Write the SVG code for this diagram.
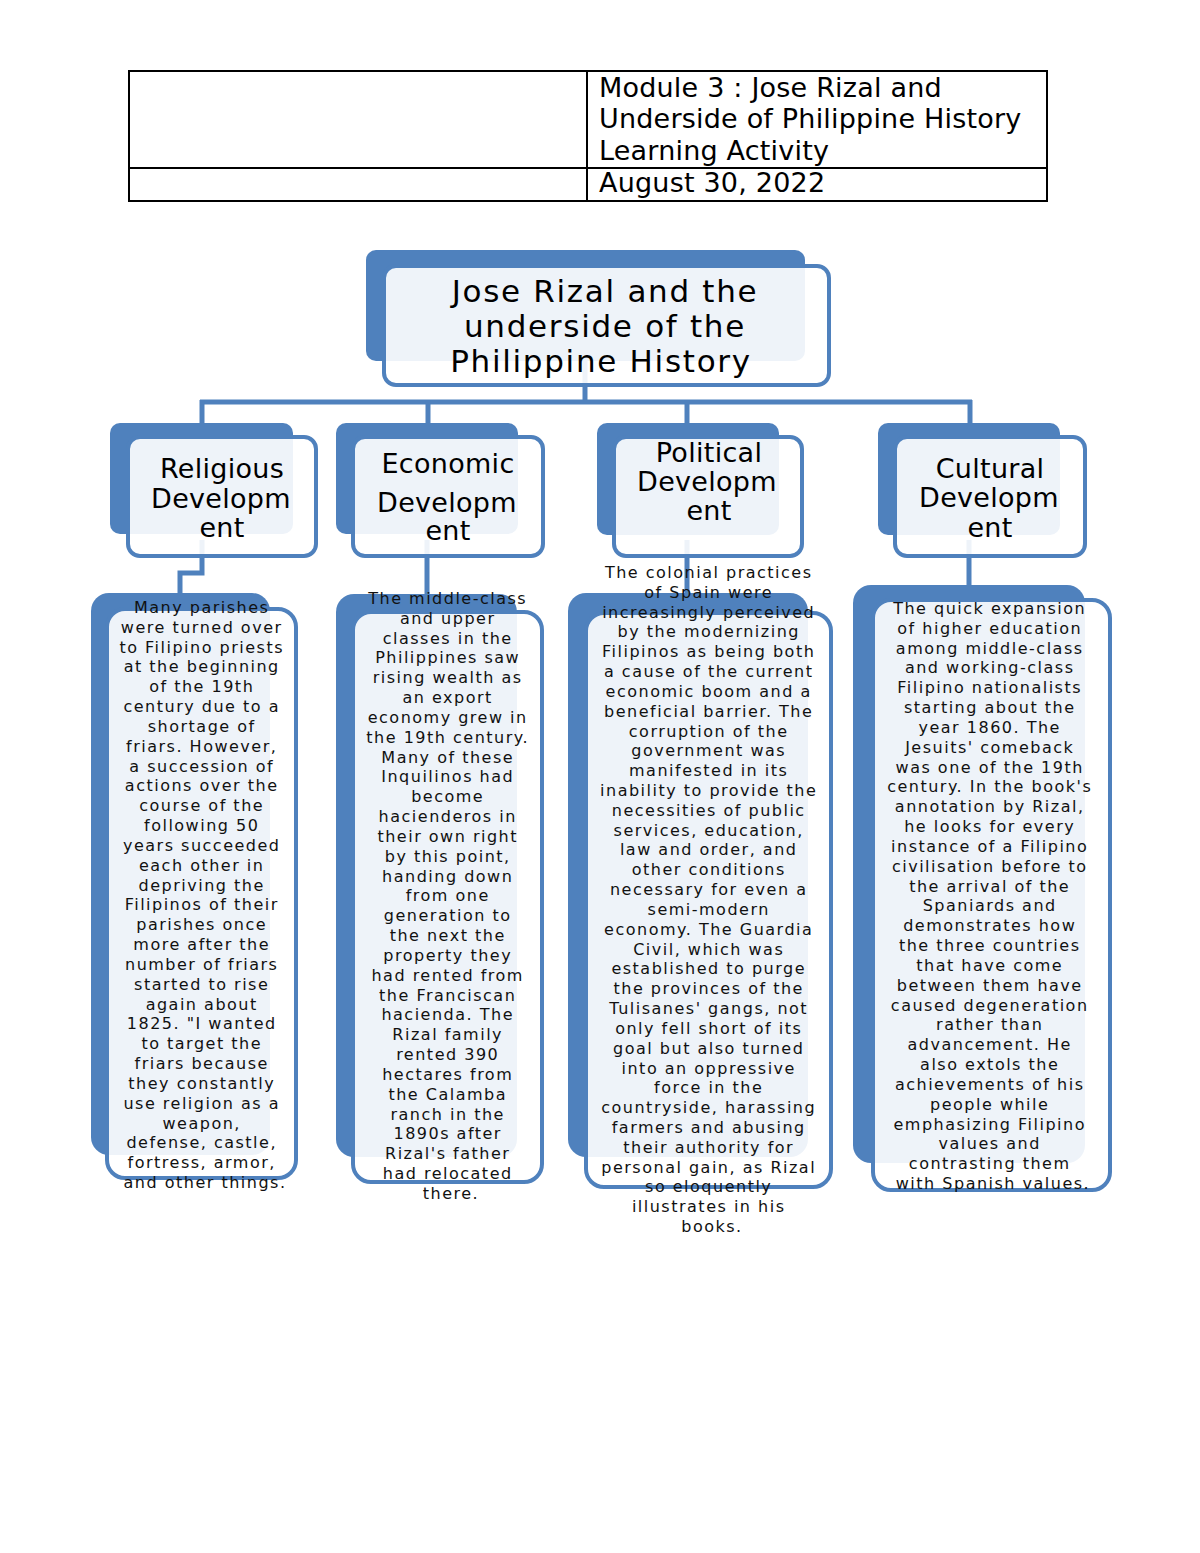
<svg xmlns="http://www.w3.org/2000/svg" width="1200" height="1553" viewBox="0 0 1200 1553">
<style>
.bg{fill:#4F81BD}
.fr{fill:#FFFFFF;fill-opacity:0.9;stroke:#4F81BD;stroke-width:4}
.cn{stroke:#4F81BD;stroke-width:5;fill:none}
.hd{font-family:"DejaVu Sans",sans-serif;font-size:27px;letter-spacing:0.2px;fill:#000}
.tt{font-family:"DejaVu Sans",sans-serif;font-size:31px;letter-spacing:1.7px;fill:#000;text-anchor:middle}
.ct{font-family:"DejaVu Sans",sans-serif;font-size:27px;letter-spacing:0.3px;fill:#000;text-anchor:middle}
.bd{font-family:"DejaVu Sans",sans-serif;font-size:16px;letter-spacing:1.5px;fill:#111;text-anchor:middle}
</style>
<rect width="1200" height="1553" fill="#FFFFFF"/>
<g id="header">
<rect x="129" y="71" width="918" height="130" fill="none" stroke="#000" stroke-width="2"/>
<line x1="587" y1="71" x2="587" y2="201" stroke="#000" stroke-width="2"/>
<line x1="129" y1="168" x2="1047" y2="168" stroke="#000" stroke-width="2"/>
<text class="hd" x="599" y="97">Module 3 : Jose Rizal and</text>
<text class="hd" x="599" y="128">Underside of Philippine History</text>
<text class="hd" x="599" y="160">Learning Activity</text>
<text class="hd" x="599" y="192">August 30, 2022</text>
</g>
<g id="connectors">
<line class="cn" x1="585" y1="360" x2="585" y2="402"/>
<line class="cn" x1="200" y1="402" x2="972" y2="402"/>
<line class="cn" x1="202" y1="400" x2="202" y2="426"/>
<line class="cn" x1="428" y1="400" x2="428" y2="426"/>
<line class="cn" x1="687" y1="400" x2="687" y2="426"/>
<line class="cn" x1="970" y1="400" x2="970" y2="426"/>
<polyline class="cn" points="202,540 202,573 180,573 180,594"/>
<line class="cn" x1="427" y1="540" x2="427" y2="596"/>
<line class="cn" x1="687" y1="540" x2="687" y2="596"/>
<line class="cn" x1="969" y1="540" x2="969" y2="588"/>
</g>
<g id="title">
<rect class="bg" x="366" y="250" width="439" height="111" rx="10"/>
<rect class="fr" x="384" y="266" width="445" height="119" rx="12"/>
<text class="tt" x="605" y="302">Jose Rizal and the</text>
<text class="tt" x="605" y="337">underside of the</text>
<text class="tt" x="601" y="372">Philippine History</text>
</g>
<g id="religious">
<rect class="bg" x="110" y="423" width="183" height="111" rx="10"/>
<rect class="fr" x="128" y="437" width="188" height="119" rx="12"/>
<text class="ct" x="222" y="478">Religious</text>
<text class="ct" x="221" y="508">Developm</text>
<text class="ct" x="222" y="537">ent</text>
</g>
<g id="economic">
<rect class="bg" x="336" y="423" width="182" height="111" rx="10"/>
<rect class="fr" x="353" y="437" width="190" height="119" rx="12"/>
<text class="ct" x="448" y="473">Economic</text>
<text class="ct" x="447" y="512">Developm</text>
<text class="ct" x="448" y="540">ent</text>
</g>
<g id="political">
<rect class="bg" x="597" y="423" width="182" height="112" rx="10"/>
<rect class="fr" x="614" y="437" width="188" height="119" rx="12"/>
<text class="ct" x="709" y="462">Political</text>
<text class="ct" x="707" y="491">Developm</text>
<text class="ct" x="709" y="520">ent</text>
</g>
<g id="cultural">
<rect class="bg" x="878" y="423" width="182" height="112" rx="10"/>
<rect class="fr" x="895" y="437" width="190" height="119" rx="12"/>
<text class="ct" x="990" y="478">Cultural</text>
<text class="ct" x="989" y="507">Developm</text>
<text class="ct" x="990" y="537">ent</text>
</g>
<g id="religious-text">
<rect class="bg" x="91" y="593" width="179" height="562" rx="18"/>
<rect class="fr" x="107" y="609" width="189" height="569" rx="18"/>
<text class="bd" x="205" y="613">
<tspan x="205" dy="0">Many parishes</tspan>
<tspan x="205" dy="19.83">were turned over</tspan>
<tspan x="205" dy="19.83">to Filipino priests</tspan>
<tspan x="205" dy="19.83">at the beginning</tspan>
<tspan x="205" dy="19.83">of the 19th</tspan>
<tspan x="205" dy="19.83">century due to a</tspan>
<tspan x="205" dy="19.83">shortage of</tspan>
<tspan x="205" dy="19.83">friars. However,</tspan>
<tspan x="205" dy="19.83">a succession of</tspan>
<tspan x="205" dy="19.83">actions over the</tspan>
<tspan x="205" dy="19.83">course of the</tspan>
<tspan x="205" dy="19.83">following 50</tspan>
<tspan x="205" dy="19.83">years succeeded</tspan>
<tspan x="205" dy="19.83">each other in</tspan>
<tspan x="205" dy="19.83">depriving the</tspan>
<tspan x="205" dy="19.83">Filipinos of their</tspan>
<tspan x="205" dy="19.83">parishes once</tspan>
<tspan x="205" dy="19.83">more after the</tspan>
<tspan x="205" dy="19.83">number of friars</tspan>
<tspan x="205" dy="19.83">started to rise</tspan>
<tspan x="205" dy="19.83">again about</tspan>
<tspan x="205" dy="19.83">1825. "I wanted</tspan>
<tspan x="205" dy="19.83">to target the</tspan>
<tspan x="205" dy="19.83">friars because</tspan>
<tspan x="205" dy="19.83">they constantly</tspan>
<tspan x="205" dy="19.83">use religion as a</tspan>
<tspan x="205" dy="19.83">weapon,</tspan>
<tspan x="205" dy="19.83">defense, castle,</tspan>
<tspan x="205" dy="19.83">fortress, armor,</tspan>
<tspan x="205" dy="19.83">and other things.</tspan>
</text>
</g>
<g id="economic-text">
<rect class="bg" x="336" y="594" width="181" height="563" rx="18"/>
<rect class="fr" x="353" y="612" width="189" height="570" rx="18"/>
<text class="bd" x="451" y="604">
<tspan x="451" dy="0">The middle-class</tspan>
<tspan x="451" dy="19.83">and upper</tspan>
<tspan x="451" dy="19.83">classes in the</tspan>
<tspan x="451" dy="19.83">Philippines saw</tspan>
<tspan x="451" dy="19.83">rising wealth as</tspan>
<tspan x="451" dy="19.83">an export</tspan>
<tspan x="451" dy="19.83">economy grew in</tspan>
<tspan x="451" dy="19.83">the 19th century.</tspan>
<tspan x="451" dy="19.83">Many of these</tspan>
<tspan x="451" dy="19.83">Inquilinos had</tspan>
<tspan x="451" dy="19.83">become</tspan>
<tspan x="451" dy="19.83">hacienderos in</tspan>
<tspan x="451" dy="19.83">their own right</tspan>
<tspan x="451" dy="19.83">by this point,</tspan>
<tspan x="451" dy="19.83">handing down</tspan>
<tspan x="451" dy="19.83">from one</tspan>
<tspan x="451" dy="19.83">generation to</tspan>
<tspan x="451" dy="19.83">the next the</tspan>
<tspan x="451" dy="19.83">property they</tspan>
<tspan x="451" dy="19.83">had rented from</tspan>
<tspan x="451" dy="19.83">the Franciscan</tspan>
<tspan x="451" dy="19.83">hacienda. The</tspan>
<tspan x="451" dy="19.83">Rizal family</tspan>
<tspan x="451" dy="19.83">rented 390</tspan>
<tspan x="451" dy="19.83">hectares from</tspan>
<tspan x="451" dy="19.83">the Calamba</tspan>
<tspan x="451" dy="19.83">ranch in the</tspan>
<tspan x="451" dy="19.83">1890s after</tspan>
<tspan x="451" dy="19.83">Rizal's father</tspan>
<tspan x="451" dy="19.83">had relocated</tspan>
<tspan x="451" dy="19.83">there.</tspan>
</text>
</g>
<g id="political-text">
<rect class="bg" x="568" y="593" width="240" height="564" rx="18"/>
<rect class="fr" x="586" y="613" width="245" height="574" rx="18"/>
<text class="bd" x="712" y="578">
<tspan x="712" dy="0">The colonial practices</tspan>
<tspan x="712" dy="19.82">of Spain were</tspan>
<tspan x="712" dy="19.82">increasingly perceived</tspan>
<tspan x="712" dy="19.82">by the modernizing</tspan>
<tspan x="712" dy="19.82">Filipinos as being both</tspan>
<tspan x="712" dy="19.82">a cause of the current</tspan>
<tspan x="712" dy="19.82">economic boom and a</tspan>
<tspan x="712" dy="19.82">beneficial barrier. The</tspan>
<tspan x="712" dy="19.82">corruption of the</tspan>
<tspan x="712" dy="19.82">government was</tspan>
<tspan x="712" dy="19.82">manifested in its</tspan>
<tspan x="712" dy="19.82">inability to provide the</tspan>
<tspan x="712" dy="19.82">necessities of public</tspan>
<tspan x="712" dy="19.82">services, education,</tspan>
<tspan x="712" dy="19.82">law and order, and</tspan>
<tspan x="712" dy="19.82">other conditions</tspan>
<tspan x="712" dy="19.82">necessary for even a</tspan>
<tspan x="712" dy="19.82">semi-modern</tspan>
<tspan x="712" dy="19.82">economy. The Guardia</tspan>
<tspan x="712" dy="19.82">Civil, which was</tspan>
<tspan x="712" dy="19.82">established to purge</tspan>
<tspan x="712" dy="19.82">the provinces of the</tspan>
<tspan x="712" dy="19.82">Tulisanes' gangs, not</tspan>
<tspan x="712" dy="19.82">only fell short of its</tspan>
<tspan x="712" dy="19.82">goal but also turned</tspan>
<tspan x="712" dy="19.82">into an oppressive</tspan>
<tspan x="712" dy="19.82">force in the</tspan>
<tspan x="712" dy="19.82">countryside, harassing</tspan>
<tspan x="712" dy="19.82">farmers and abusing</tspan>
<tspan x="712" dy="19.82">their authority for</tspan>
<tspan x="712" dy="19.82">personal gain, as Rizal</tspan>
<tspan x="712" dy="19.82">so eloquently</tspan>
<tspan x="712" dy="19.82">illustrates in his</tspan>
<tspan x="712" dy="19.82">books.</tspan>
</text>
</g>
<g id="cultural-text">
<rect class="bg" x="853" y="585" width="232" height="578" rx="18"/>
<rect class="fr" x="873" y="600" width="237" height="590" rx="18"/>
<text class="bd" x="993" y="614">
<tspan x="993" dy="0">The quick expansion</tspan>
<tspan x="993" dy="19.83">of higher education</tspan>
<tspan x="993" dy="19.83">among middle-class</tspan>
<tspan x="993" dy="19.83">and working-class</tspan>
<tspan x="993" dy="19.83">Filipino nationalists</tspan>
<tspan x="993" dy="19.83">starting about the</tspan>
<tspan x="993" dy="19.83">year 1860. The</tspan>
<tspan x="993" dy="19.83">Jesuits' comeback</tspan>
<tspan x="993" dy="19.83">was one of the 19th</tspan>
<tspan x="993" dy="19.83">century. In the book's</tspan>
<tspan x="993" dy="19.83">annotation by Rizal,</tspan>
<tspan x="993" dy="19.83">he looks for every</tspan>
<tspan x="993" dy="19.83">instance of a Filipino</tspan>
<tspan x="993" dy="19.83">civilisation before to</tspan>
<tspan x="993" dy="19.83">the arrival of the</tspan>
<tspan x="993" dy="19.83">Spaniards and</tspan>
<tspan x="993" dy="19.83">demonstrates how</tspan>
<tspan x="993" dy="19.83">the three countries</tspan>
<tspan x="993" dy="19.83">that have come</tspan>
<tspan x="993" dy="19.83">between them have</tspan>
<tspan x="993" dy="19.83">caused degeneration</tspan>
<tspan x="993" dy="19.83">rather than</tspan>
<tspan x="993" dy="19.83">advancement. He</tspan>
<tspan x="993" dy="19.83">also extols the</tspan>
<tspan x="993" dy="19.83">achievements of his</tspan>
<tspan x="993" dy="19.83">people while</tspan>
<tspan x="993" dy="19.83">emphasizing Filipino</tspan>
<tspan x="993" dy="19.83">values and</tspan>
<tspan x="993" dy="19.83">contrasting them</tspan>
<tspan x="993" dy="19.83">with Spanish values.</tspan>
</text>
</g>
</svg>
